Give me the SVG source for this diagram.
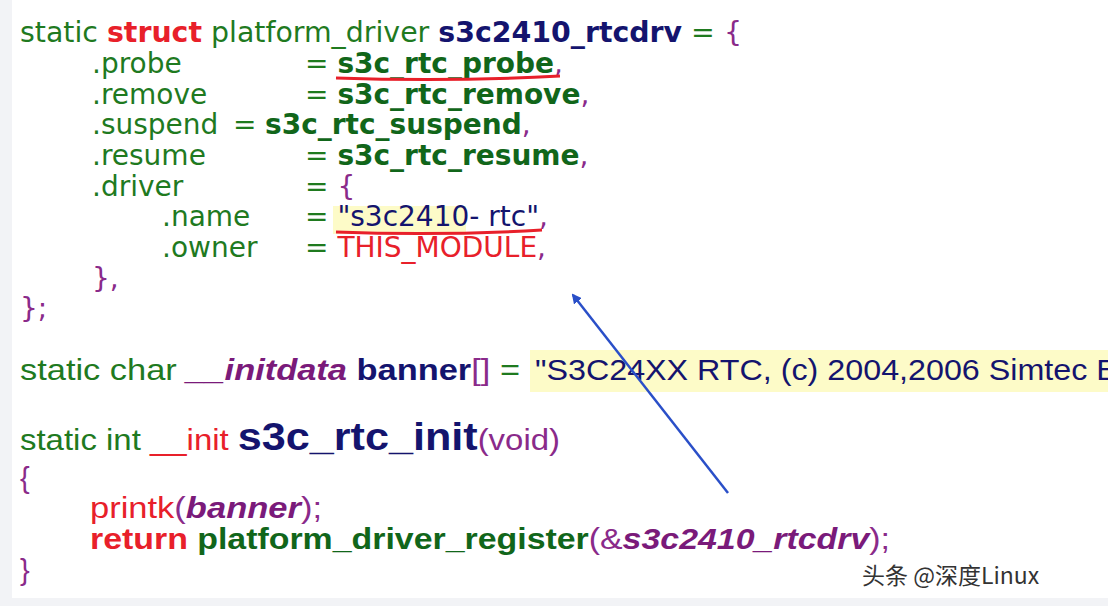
<svg xmlns="http://www.w3.org/2000/svg" width="1108" height="606" viewBox="0 0 1108 606">
<style>
text{font-family:"DejaVu Sans","Liberation Sans",sans-serif;font-size:28px;fill:#1f7a1f}
.b{font-weight:bold;fill:#11661a}
.r{fill:#e8202a}
.rb{fill:#e8202a;font-weight:bold}
.n{fill:#14146e;font-weight:bold}
.ns{fill:#14146e}
.p{fill:#8a2a8a}
.pi{fill:#7a1a7a;font-style:italic;font-weight:bold}
.c{font-family:"Liberation Sans",sans-serif;font-size:29px}
</style>
<defs><marker id="ah" markerWidth="10" markerHeight="10" refX="8" refY="5" orient="auto" markerUnits="userSpaceOnUse"><path d="M0,0 L10,5 L0,10 z" fill="#2a4fc8"/></marker></defs>
<rect width="1108" height="606" fill="#fff"/>
<rect width="12" height="606" fill="#f2f3f6"/>
<rect x="0" y="598" width="1108" height="8" fill="#f2f3f6"/>
<rect x="530" y="350" width="578" height="42" fill="#fdfbc8"/>
<rect x="333" y="206" width="133" height="28" fill="#fdfbc8"/>
<g id="code">
<text x="20" y="42" textLength="722" lengthAdjust="spacingAndGlyphs">static <tspan class="rb">struct</tspan> platform_driver <tspan class="n">s3c2410_rtcdrv</tspan> = <tspan class="p">{</tspan></text>
<text x="92" y="73">.probe</text><text x="305" y="73">= <tspan class="b">s3c_rtc_probe</tspan><tspan class="p">,</tspan></text>
<text x="92" y="104">.remove</text><text x="305" y="104">= <tspan class="b">s3c_rtc_remove</tspan><tspan class="p">,</tspan></text>
<text x="92" y="134">.suspend</text><text x="233" y="134">= </text><text x="265" y="134"><tspan class="b">s3c_rtc_suspend</tspan><tspan class="p">,</tspan></text>
<text x="92" y="165">.resume</text><text x="305" y="165">= <tspan class="b">s3c_rtc_resume</tspan><tspan class="p">,</tspan></text>
<text x="92" y="196">.driver</text><text x="305" y="196">= <tspan class="p">{</tspan></text>
<text x="162" y="226">.name</text><text x="305" y="226">= <tspan class="ns">"s3c2410- rtc"</tspan><tspan class="p">,</tspan></text>
<text x="162" y="257">.owner</text><text x="305" y="257">= <tspan class="r">THIS_MODULE</tspan><tspan class="p">,</tspan></text>
<text x="92" y="288" class="p">},</text>
<text x="20" y="318" class="p">};</text>
<text class="c" x="20" y="380" textLength="500" lengthAdjust="spacingAndGlyphs">static char <tspan class="pi">__initdata</tspan> <tspan class="n">banner</tspan><tspan class="p">[]</tspan> =</text>
<text class="c ns" x="535" y="380" textLength="590" lengthAdjust="spacingAndGlyphs">"S3C24XX RTC, (c) 2004,2006 Simtec El</text>
<text class="c" x="20" y="450" textLength="540" lengthAdjust="spacingAndGlyphs">static int <tspan class="r">__init</tspan> <tspan class="n" style="font-size:38px">s3c_rtc_init</tspan><tspan class="p">(void)</tspan></text>
<text class="c p" x="20" y="488">{</text>
<text class="c" x="90" y="518" textLength="232" lengthAdjust="spacingAndGlyphs"><tspan class="r">printk</tspan><tspan class="p">(</tspan><tspan class="pi">banner</tspan><tspan class="p">);</tspan></text>
<text class="c" x="90" y="549" textLength="800" lengthAdjust="spacingAndGlyphs"><tspan class="rb">return</tspan> <tspan class="b">platform_driver_register</tspan><tspan class="p">(&amp;</tspan><tspan class="pi">s3c2410_rtcdrv</tspan><tspan class="p">);</tspan></text>
<text class="c p" x="20" y="580">}</text>
</g>
<g id="connectors">
<path d="M336,78 Q450,82 560,76" stroke="#e8202a" stroke-width="3" fill="none"/>
<path d="M336,232 Q440,236 542,230" stroke="#e8202a" stroke-width="3" fill="none"/>
<line x1="728" y1="493" x2="573" y2="295" stroke="#2a4fc8" stroke-width="2.5" marker-end="url(#ah)"/>
</g>
<text x="862" y="584" style="font-family:'Noto Sans CJK SC',sans-serif;font-size:23px;fill:#333">头条 @深度Linux</text>
</svg>
